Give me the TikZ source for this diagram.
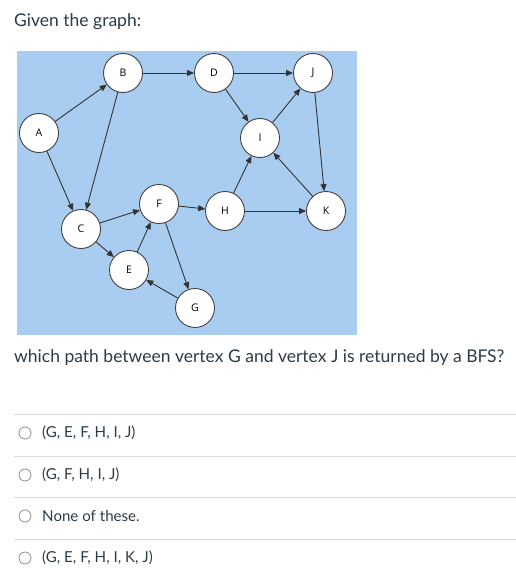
\documentclass[tikz,border=0pt]{standalone}
\usepackage{fontspec}
\setmainfont{Lato}
\newfontfamily\nodefont{Open Sans}
\usetikzlibrary{arrows.meta}
\definecolor{txt}{HTML}{2D3B45}
\definecolor{bgblue}{HTML}{A9CDF0}
\definecolor{sepgray}{HTML}{D7DADE}
\definecolor{radiogray}{HTML}{8A8F94}
\tikzset{
  vtx/.style={circle,draw=black!75,fill=white,line width=0.9pt,minimum size=39pt,inner sep=0pt,font=\nodefont\fontsize{10.5}{12}\selectfont},
  edge/.style={draw=black!80,line width=0.9pt,-{Triangle[length=7pt,width=6pt]}},
  qtext/.style={anchor=west,inner sep=0pt,text=txt,font=\fontsize{17.5}{21}\selectfont},
  opt/.style={anchor=west,inner sep=0pt,text=txt,font=\fontsize{15.1}{18}\selectfont},
  radio/.style={circle,draw=radiogray,line width=0.8pt,minimum size=12pt,inner sep=0pt},
  sep/.style={draw=sepgray,line width=0.8pt}
}
\begin{document}
\begin{tikzpicture}[x=1pt,y=-1pt]
\useasboundingbox (0,0) rectangle (516,578);
\node[qtext] (title) at (14,22) {Given the graph:};
\fill[bgblue] (17,51) rectangle (357,335);
\node[vtx] (A) at (39,133) {A};
\node[vtx] (B) at (123,73) {B};
\node[vtx] (D) at (214,73) {D};
\node[vtx] (J) at (313,73) {J};
\node[vtx] (I) at (260,138) {I};
\node[vtx] (F) at (159,204) {F};
\node[vtx] (H) at (225,211) {H};
\node[vtx] (K) at (326,211) {K};
\node[vtx] (C) at (81,229) {C};
\node[vtx] (E) at (129,270) {E};
\node[vtx] (G) at (195,308) {G};
\draw[edge] (A) -- (B);
\draw[edge] (A) -- (C);
\draw[edge] (B) -- (C);
\draw[edge] (B) -- (D);
\draw[edge] (D) -- (J);
\draw[edge] (D) -- (I);
\draw[edge] (I) -- (J);
\draw[edge] (J) -- (K);
\draw[edge] (K) -- (I);
\draw[edge] (H) -- (I);
\draw[edge] (H) -- (K);
\draw[edge] (F) -- (H);
\draw[edge] (C) -- (F);
\draw[edge] (C) -- (E);
\draw[edge] (E) -- (F);
\draw[edge] (F) -- (G);
\draw[edge] (G) -- (E);
\node[qtext] (question) at (14,358) {which path between vertex G and vertex J is returned by a BFS?};
\coordinate (s1a) at (14,414); \coordinate (s1b) at (516,414);
\coordinate (s2a) at (14,456); \coordinate (s2b) at (516,456);
\coordinate (s3a) at (14,497); \coordinate (s3b) at (516,497);
\coordinate (s4a) at (14,539); \coordinate (s4b) at (516,539);
\draw[sep] (s1a) -- (s1b);
\draw[sep] (s2a) -- (s2b);
\draw[sep] (s3a) -- (s3b);
\draw[sep] (s4a) -- (s4b);
\node[radio] (r1) at (25,433) {};
\node[radio] (r2) at (25,475) {};
\node[radio] (r3) at (25,516) {};
\node[radio] (r4) at (25,558) {};
\node[opt] (o1) at (42,433) {(G, E, F, H, I, J)};
\node[opt] (o2) at (42,475) {(G, F, H, I, J)};
\node[opt] (o3) at (42,516) {None of these.};
\node[opt] (o4) at (42,558) {(G, E, F, H, I, K, J)};
\end{tikzpicture}
\end{document}
